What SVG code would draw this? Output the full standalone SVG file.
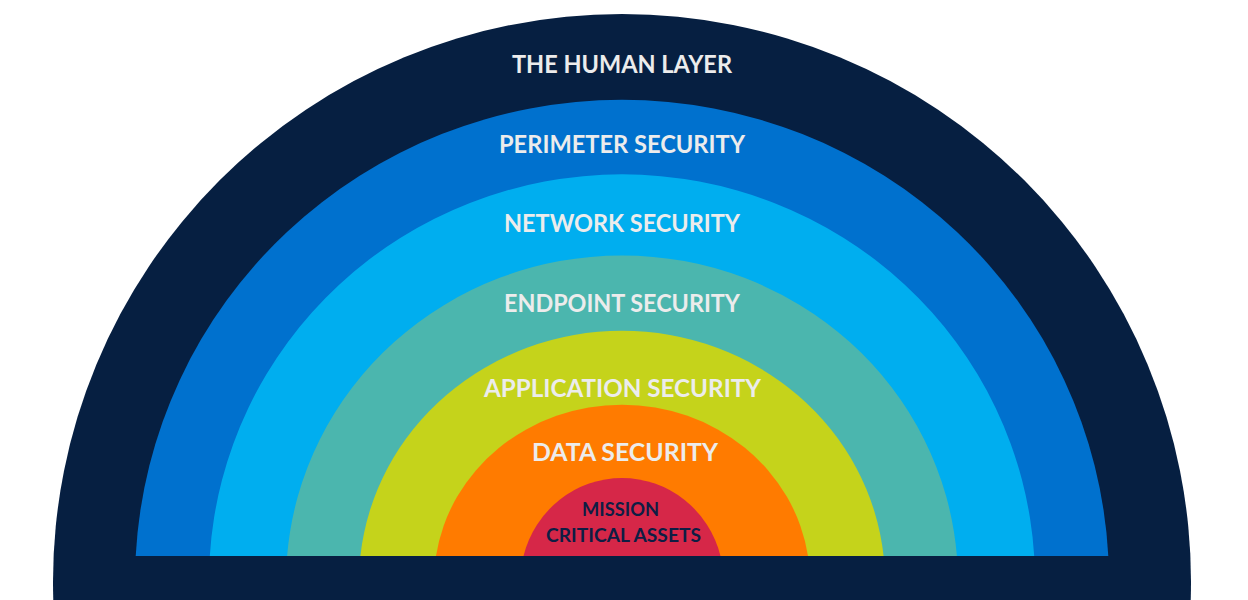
<svg xmlns="http://www.w3.org/2000/svg" width="1248" height="600" viewBox="0 0 1248 600">
  <style>
    .lbl { font-family: "Lato", "Liberation Sans", sans-serif; font-weight: 700; fill: #ECECEC; text-anchor: middle; font-size: 25px; }
    .core { font-family: "Lato", "Liberation Sans", sans-serif; font-weight: 700; fill: #0E1E44; text-anchor: middle; font-size: 18px; }
  </style>
  <rect x="0" y="0" width="1248" height="600" fill="#FFFFFF"/>
  <g id="human-layer">
    <ellipse cx="622" cy="582" rx="569" ry="568" fill="#061F41"/>
    <text class="lbl" x="622" y="73" textLength="220" lengthAdjust="spacingAndGlyphs">THE HUMAN LAYER</text>
  </g>
  <g id="perimeter-security">
    <path d="M135.7,556 A487,482 0 0 1 1108.3,556 Z" fill="#0071CE"/>
    <text class="lbl" x="622" y="153" textLength="246" lengthAdjust="spacingAndGlyphs">PERIMETER SECURITY</text>
  </g>
  <g id="network-security">
    <path d="M209.8,556 A413,407 0 0 1 1034.2,556 Z" fill="#00AEEF"/>
    <text class="lbl" x="622" y="232" textLength="236" lengthAdjust="spacingAndGlyphs">NETWORK SECURITY</text>
  </g>
  <g id="endpoint-security">
    <path d="M287.1,556 A336,327 0 0 1 956.9,556 Z" fill="#4BB6AE"/>
    <text class="lbl" x="622" y="312" textLength="236" lengthAdjust="spacingAndGlyphs">ENDPOINT SECURITY</text>
  </g>
  <g id="application-security">
    <path d="M360.4,556 A263,251 0 0 1 883.6,556 Z" fill="#C5D31B"/>
    <text class="lbl" x="622.5" y="397" textLength="277" lengthAdjust="spacingAndGlyphs">APPLICATION SECURITY</text>
  </g>
  <g id="data-security">
    <path d="M436,556 A188,177 0 0 1 808,556 Z" fill="#FF7B00"/>
    <text class="lbl" x="625" y="461" textLength="186" lengthAdjust="spacingAndGlyphs">DATA SECURITY</text>
  </g>
  <g id="mission-critical-assets">
    <path d="M523.5,556 A101.7,104 0 0 1 720.5,556 Z" fill="#D62748"/>
    <text class="core" x="620.5" y="516" textLength="77" lengthAdjust="spacingAndGlyphs">MISSION</text>
    <text class="core" x="623.5" y="542" textLength="155" lengthAdjust="spacingAndGlyphs">CRITICAL ASSETS</text>
  </g>
  <g id="connectors"/>
</svg>
